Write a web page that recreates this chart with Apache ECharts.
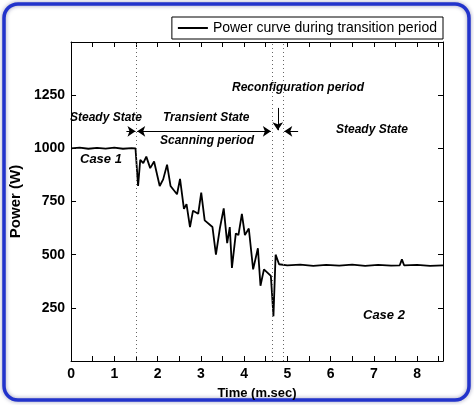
<!DOCTYPE html>
<html><head><meta charset="utf-8">
<script src="https://cdn.jsdelivr.net/npm/echarts@6/dist/echarts.min.js"></script>
<style>html,body{margin:0;padding:0;background:#fff}#c{width:474px;height:405px}</style>
</head><body><div id="c"></div>
<script>
const times = [0,0.2,0.4,0.6,0.8,1.0,1.2,1.4,1.49,1.55,1.60,1.67,1.74,1.83,1.92,2.05,2.13,2.22,2.30,2.45,2.52,2.61,2.67,2.75,2.82,2.94,3.01,3.09,3.27,3.35,3.44,3.53,3.61,3.67,3.72,3.81,3.87,3.95,4.02,4.11,4.21,4.32,4.38,4.46,4.62,4.68,4.73,4.81,5.0,5.3,5.6,5.9,6.2,6.5,6.8,7.1,7.4,7.6,7.65,7.7,8.0,8.3,8.6];
const power = [1000,1003,998,1002,999,1003,998,1001,1000,823,946,930,961,907,938,823,854,923,823,784,856,715,738,630,707,692,792,661,630,500,623,718,554,630,438,600,592,692,592,623,431,530,354,431,400,210,500,455,450,453,447,452,448,453,447,452,448,450,478,450,452,447,450];
const xTicks = [0,1,2,3,4,5,6,7,8];
const yTicks = [250,500,750,1000,1250];
const data = times.map((t,i)=>[t,power[i]]);
const ch = echarts.init(document.getElementById('c'));
const F = 'Liberation Sans, Arial, sans-serif';
const it = {fontFamily:F, fontStyle:'italic', fontWeight:'bold', fontSize:12, fill:'#000'};
const tick = {inside:true,length:5,lineStyle:{color:'#000'}};
const dot = {type:[1,3],color:'#666',width:1};
ch.setOption({
  animation:false,
  grid:{left:68,right:31,top:42,bottom:40},
  legend:{right:31,top:17,padding:[4,6],borderColor:'#000',borderWidth:1,itemWidth:30,itemHeight:2,
    textStyle:{fontFamily:F,fontSize:14,color:'#000'},data:[{name:'Power curve during transition period',icon:'rect'}]},
  xAxis:[{type:'value',min:0,max:8.6,interval:1,name:'Time (m.sec)',nameLocation:'middle',nameGap:12,
    nameTextStyle:{fontFamily:F,fontWeight:'bold',fontSize:13,color:'#000',padding:[14,0,0,0]},
    axisLine:{show:true,onZero:false,lineStyle:{color:'#000'}},axisTick:tick,
    minorTick:{show:true,splitNumber:2,length:5,lineStyle:{color:'#000'}},
    axisLabel:{fontFamily:F,fontWeight:'bold',fontSize:14,color:'#000',margin:6,formatter:v=>xTicks.includes(v)?String(v):''},splitLine:{show:false}},
    {type:'value',position:'top',min:0,max:8.6,interval:1,axisLine:{show:true,onZero:false,lineStyle:{color:'#000'}},axisTick:tick,
    minorTick:{show:true,splitNumber:2,length:5,lineStyle:{color:'#000'}},axisLabel:{show:false},splitLine:{show:false}}],
  yAxis:[{type:'value',min:0,max:1500,interval:250,name:'Power (W)',nameLocation:'middle',nameGap:48,
    nameTextStyle:{fontFamily:F,fontWeight:'bold',fontSize:15,color:'#000'},
    axisLine:{show:true,lineStyle:{color:'#000'}},axisTick:tick,
    axisLabel:{fontFamily:F,fontWeight:'bold',fontSize:14,color:'#000',margin:6,formatter:v=>yTicks.includes(v)?String(v):''},splitLine:{show:false}},
    {type:'value',position:'right',min:0,max:1500,interval:250,axisLine:{show:true,onZero:false,lineStyle:{color:'#000'}},axisTick:tick,axisLabel:{show:false},splitLine:{show:false}}],
  series:[{name:'Power curve during transition period',type:'line',data:data,symbol:'none',
    lineStyle:{color:'#000',width:1.8},itemStyle:{color:'#000'},
    markLine:{silent:true,symbol:['none','none'],label:{show:false},
      data:[
        {xAxis:1.5,lineStyle:dot},
        {xAxis:4.66,lineStyle:dot},
        {xAxis:4.9,lineStyle:dot},
        [{coord:[1.28,1080],symbol:'none'},{coord:[1.49,1080],symbol:'arrow'}],
        [{coord:[1.53,1080],symbol:'arrow'},{coord:[4.62,1080],symbol:'arrow'}],
        [{coord:[4.78,1190],symbol:'none'},{coord:[4.78,1085],symbol:'arrow'}],
        [{coord:[5.25,1080],symbol:'none'},{coord:[4.93,1080],symbol:'arrow'}]
      ].map(d=>Array.isArray(d)?d.map(p=>Object.assign({},p,{symbolSize:8})).map((p,i)=>i==1?Object.assign(p,{lineStyle:{type:'solid',color:'#000',width:1}}):p):d),
      lineStyle:{type:'solid',color:'#000',width:1}}}],
  graphic:[
    {type:'rect',shape:{x:4,y:4,width:465,height:396,r:14},style:{fill:'none',stroke:'#2233cc',lineWidth:3.5,shadowBlur:4,shadowColor:'rgba(0,0,80,0.4)'},z:-1},
    {type:'text',left:70,top:112,style:Object.assign({text:'Steady State'},it)},
    {type:'text',left:163,top:112,style:Object.assign({text:'Transient State'},it)},
    {type:'text',left:160,top:135,style:Object.assign({text:'Scanning period'},it)},
    {type:'text',left:232,top:82,style:Object.assign({text:'Reconfiguration period'},it)},
    {type:'text',left:336,top:124,style:Object.assign({text:'Steady State'},it)},
    {type:'text',left:80,top:153,style:Object.assign({text:'Case 1'},it,{fontSize:13})},
    {type:'text',left:363,top:309,style:Object.assign({text:'Case 2'},it,{fontSize:13})}
  ]
});
</script></body></html>
